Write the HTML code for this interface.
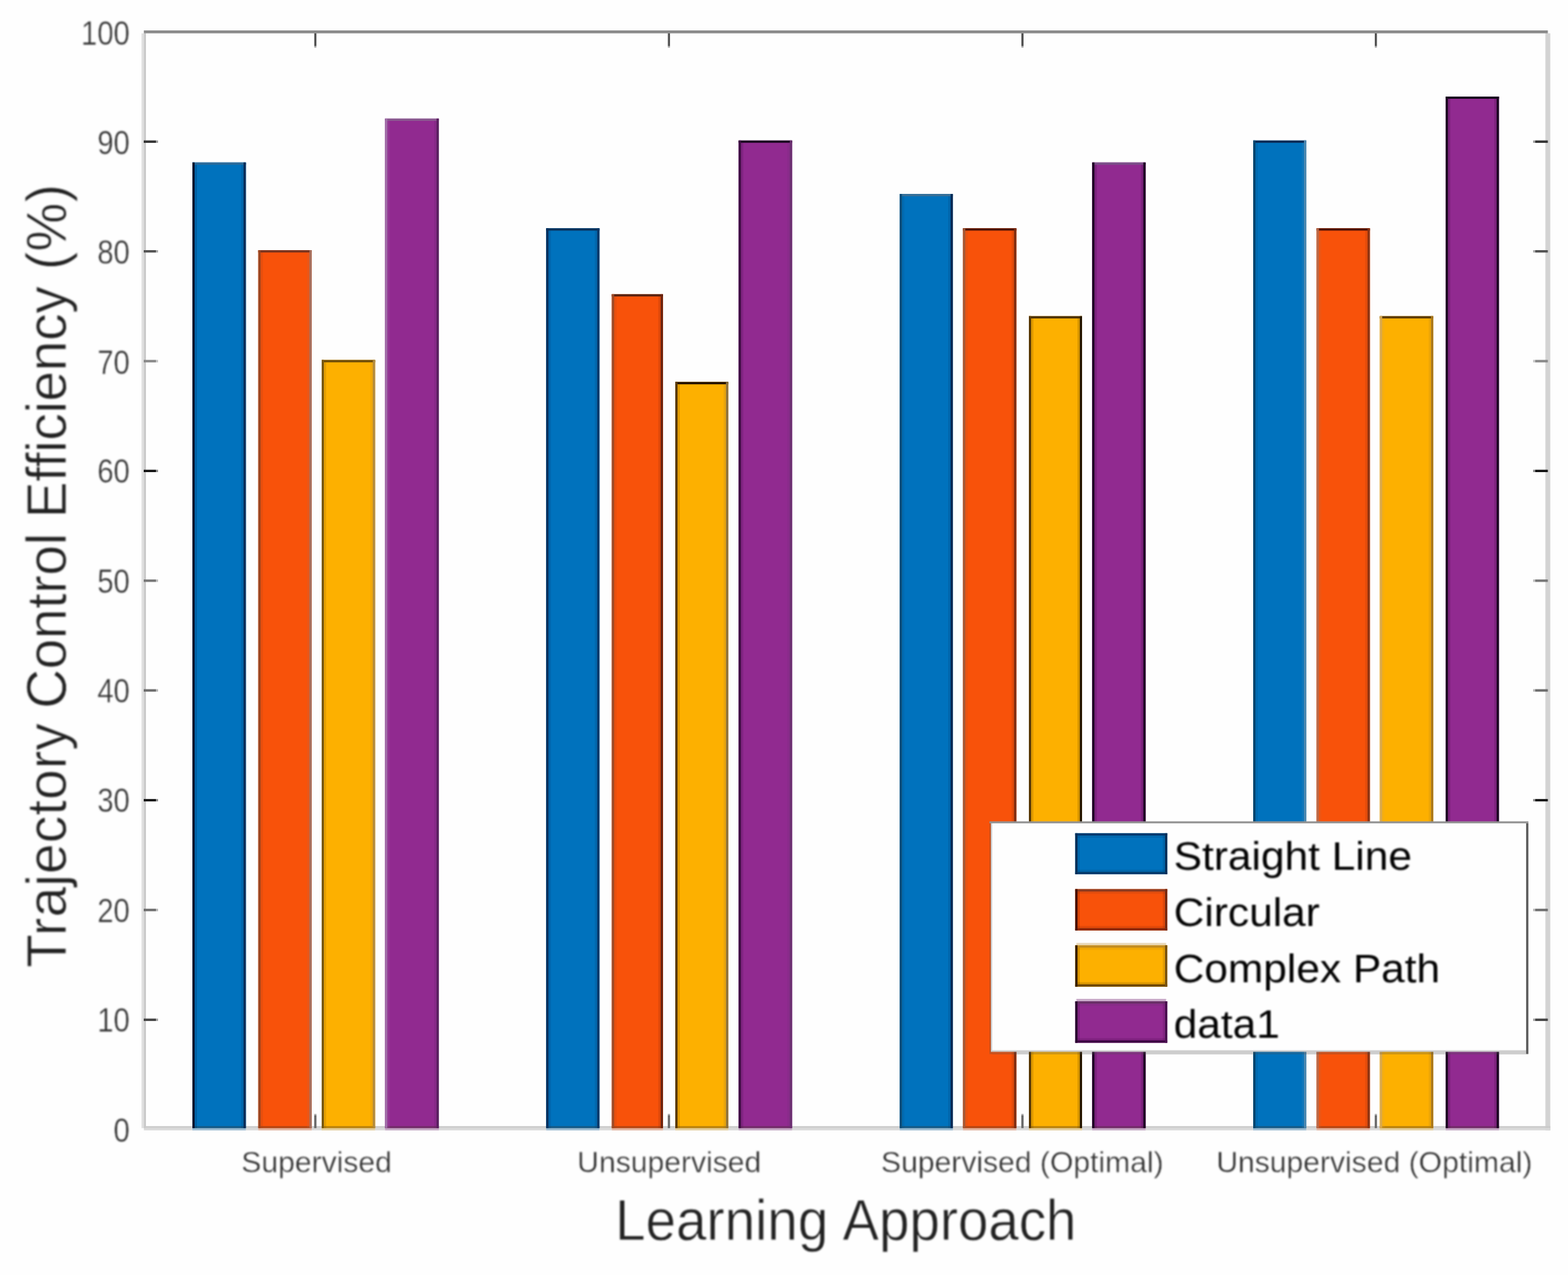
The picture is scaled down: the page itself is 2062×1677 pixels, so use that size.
<!DOCTYPE html>
<html lang="en"><head><meta charset="utf-8"><title>Trajectory Control Efficiency by Learning Approach</title>
<style>html,body{margin:0;padding:0;background:#fefefe}body{width:2062px;height:1677px;overflow:hidden}svg{display:block}text{font-family:"Liberation Sans",Arial,Helvetica,sans-serif}.tk{font-size:39.6px;fill:#2e2e2e;stroke:#fefefe;stroke-width:0.5px;paint-order:fill stroke}.al{font-size:72px;fill:#222;stroke:#fefefe;stroke-width:0.8px;paint-order:fill stroke}.lg{font-size:55.8px;fill:#030303}</style></head><body>
<svg width="2062" height="1677" viewBox="0 0 2062 1677">
<defs><filter id="soft" x="0" y="0" width="2062" height="1677" filterUnits="userSpaceOnUse" color-interpolation-filters="sRGB"><feGaussianBlur stdDeviation="0.7"/></filter><filter id="softer" x="0" y="0" width="2062" height="1677" filterUnits="userSpaceOnUse" color-interpolation-filters="sRGB"><feGaussianBlur stdDeviation="1.0"/></filter></defs>
<rect width="2062" height="1677" fill="#fefefe"/>
<g filter="url(#soft)">
<rect x="-20" y="-20" width="2102" height="1717" fill="#fefefe"/>
<g id="axes">
<rect x="186.1" y="43.8" width="3.1" height="1440" fill="#e0e0e0"/>
<rect x="189.2" y="43.8" width="2.7" height="1440" fill="#c8c8c8"/>
<rect x="2032.3" y="43.8" width="6.4" height="1443" fill="#d3d3d3"/>
<rect x="189.2" y="1481.2" width="1849.5" height="2.6" fill="#cacaca"/>
<rect x="189.2" y="1483.8" width="1849.5" height="2.9" fill="#d9d9d9"/>
<rect x="189.2" y="40" width="1846.3" height="3.8" fill="#8b8b8b"/>
<rect x="189" y="1339.7" width="16" height="3.2" fill="#444"/>
<rect x="205" y="1339.7" width="2.8" height="3.2" fill="#444" fill-opacity="0.5"/>
<rect x="2019" y="1339.7" width="16.5" height="3.2" fill="#444"/>
<rect x="2016.2" y="1339.7" width="2.8" height="3.2" fill="#444" fill-opacity="0.5"/>
<rect x="189" y="1195.3" width="16" height="3.2" fill="#6a6a6a"/>
<rect x="205" y="1195.3" width="2.8" height="3.2" fill="#6a6a6a" fill-opacity="0.5"/>
<rect x="2019" y="1195.3" width="16.5" height="3.2" fill="#6a6a6a"/>
<rect x="2016.2" y="1195.3" width="2.8" height="3.2" fill="#6a6a6a" fill-opacity="0.5"/>
<rect x="189" y="1050.9" width="16" height="3.2" fill="#181818"/>
<rect x="205" y="1050.9" width="2.8" height="3.2" fill="#181818" fill-opacity="0.5"/>
<rect x="2019" y="1050.9" width="16.5" height="3.2" fill="#181818"/>
<rect x="2016.2" y="1050.9" width="2.8" height="3.2" fill="#181818" fill-opacity="0.5"/>
<rect x="189" y="906.5" width="16" height="3.2" fill="#6a6a6a"/>
<rect x="205" y="906.5" width="2.8" height="3.2" fill="#6a6a6a" fill-opacity="0.5"/>
<rect x="2019" y="906.5" width="16.5" height="3.2" fill="#6a6a6a"/>
<rect x="2016.2" y="906.5" width="2.8" height="3.2" fill="#6a6a6a" fill-opacity="0.5"/>
<rect x="189" y="762.2" width="16" height="3.2" fill="#757575"/>
<rect x="205" y="762.2" width="2.8" height="3.2" fill="#757575" fill-opacity="0.5"/>
<rect x="2019" y="762.2" width="16.5" height="3.2" fill="#757575"/>
<rect x="2016.2" y="762.2" width="2.8" height="3.2" fill="#757575" fill-opacity="0.5"/>
<rect x="189" y="617.8" width="16" height="3.2" fill="#181818"/>
<rect x="205" y="617.8" width="2.8" height="3.2" fill="#181818" fill-opacity="0.5"/>
<rect x="2019" y="617.8" width="16.5" height="3.2" fill="#181818"/>
<rect x="2016.2" y="617.8" width="2.8" height="3.2" fill="#181818" fill-opacity="0.5"/>
<rect x="189" y="473.4" width="16" height="3.2" fill="#858585"/>
<rect x="205" y="473.4" width="2.8" height="3.2" fill="#858585" fill-opacity="0.5"/>
<rect x="2019" y="473.4" width="16.5" height="3.2" fill="#858585"/>
<rect x="2016.2" y="473.4" width="2.8" height="3.2" fill="#858585" fill-opacity="0.5"/>
<rect x="189" y="329.0" width="16" height="3.2" fill="#555"/>
<rect x="205" y="329.0" width="2.8" height="3.2" fill="#555" fill-opacity="0.5"/>
<rect x="2019" y="329.0" width="16.5" height="3.2" fill="#555"/>
<rect x="2016.2" y="329.0" width="2.8" height="3.2" fill="#555" fill-opacity="0.5"/>
<rect x="189" y="184.7" width="16" height="3.2" fill="#333"/>
<rect x="205" y="184.7" width="2.8" height="3.2" fill="#333" fill-opacity="0.5"/>
<rect x="2019" y="184.7" width="16.5" height="3.2" fill="#333"/>
<rect x="2016.2" y="184.7" width="2.8" height="3.2" fill="#333" fill-opacity="0.5"/>
<rect x="413.3" y="43.8" width="2.8" height="17" fill="#505050"/>
<rect x="413.3" y="60.8" width="2.8" height="2" fill="#b0b0b0"/>
<rect x="413.2" y="1467" width="3" height="16.8" fill="#6a6a6a"/>
<rect x="413.2" y="1465" width="3" height="2" fill="#b0b0b0"/>
<rect x="878.3" y="43.8" width="2.8" height="17" fill="#505050"/>
<rect x="878.3" y="60.8" width="2.8" height="2" fill="#b0b0b0"/>
<rect x="878.2" y="1467" width="3" height="16.8" fill="#6a6a6a"/>
<rect x="878.2" y="1465" width="3" height="2" fill="#b0b0b0"/>
<rect x="1343.2" y="43.8" width="2.8" height="17" fill="#505050"/>
<rect x="1343.2" y="60.8" width="2.8" height="2" fill="#b0b0b0"/>
<rect x="1343.1" y="1467" width="3" height="16.8" fill="#6a6a6a"/>
<rect x="1343.1" y="1465" width="3" height="2" fill="#b0b0b0"/>
<rect x="1807.9" y="43.8" width="2.8" height="17" fill="#505050"/>
<rect x="1807.9" y="60.8" width="2.8" height="2" fill="#b0b0b0"/>
<rect x="1807.8" y="1467" width="3" height="16.8" fill="#6a6a6a"/>
<rect x="1807.8" y="1465" width="3" height="2" fill="#b0b0b0"/>
</g>
<g id="bars">
<rect x="253.0" y="213.7" width="70.3" height="1270.1" fill="#0072bd"/>
<rect x="253.0" y="1483.8" width="70.3" height="2.9" fill="#0072bd" fill-opacity="0.3"/>
<rect x="253.0" y="1481.2" width="70.3" height="2.6" fill="#3a2a20" fill-opacity="0.35"/>
<rect x="253.0" y="213.7" width="70.3" height="3.0" fill="#2d6a98"/>
<rect x="253.0" y="213.7" width="3.0" height="1270.1" fill="#02102e"/>
<rect x="320.3" y="213.7" width="3.0" height="1270.1" fill="#0a2a55"/>
<rect x="256.0" y="216.7" width="3" height="1267.1" fill="#02102e" fill-opacity="0.18"/>
<rect x="317.3" y="216.7" width="3" height="1267.1" fill="#0a2a55" fill-opacity="0.18"/>
<rect x="339.7" y="329.1" width="70.2" height="1154.7" fill="#f8520a"/>
<rect x="339.7" y="1483.8" width="70.2" height="2.9" fill="#f8520a" fill-opacity="0.3"/>
<rect x="339.7" y="1481.2" width="70.2" height="2.6" fill="#3a2a20" fill-opacity="0.35"/>
<rect x="339.7" y="329.1" width="70.2" height="3.0" fill="#7a3520"/>
<rect x="339.7" y="329.1" width="3.0" height="1154.7" fill="#9a4520"/>
<rect x="406.9" y="329.1" width="3.0" height="1154.7" fill="#a8705e"/>
<rect x="342.7" y="332.1" width="3" height="1151.7" fill="#9a4520" fill-opacity="0.18"/>
<rect x="403.9" y="332.1" width="3" height="1151.7" fill="#a8705e" fill-opacity="0.18"/>
<rect x="423.0" y="473.5" width="70.3" height="1010.3" fill="#fdb000"/>
<rect x="423.0" y="1483.8" width="70.3" height="2.9" fill="#fdb000" fill-opacity="0.3"/>
<rect x="423.0" y="1481.2" width="70.3" height="2.6" fill="#3a2a20" fill-opacity="0.35"/>
<rect x="423.0" y="473.5" width="70.3" height="3.0" fill="#6a4a08"/>
<rect x="423.0" y="473.5" width="3.0" height="1010.3" fill="#7a5a10"/>
<rect x="490.3" y="473.5" width="3.0" height="1010.3" fill="#b08a40"/>
<rect x="426.0" y="476.5" width="3" height="1007.3" fill="#7a5a10" fill-opacity="0.18"/>
<rect x="487.3" y="476.5" width="3" height="1007.3" fill="#b08a40" fill-opacity="0.18"/>
<rect x="506.4" y="155.9" width="70.7" height="1327.9" fill="#912a90"/>
<rect x="506.4" y="1483.8" width="70.7" height="2.9" fill="#912a90" fill-opacity="0.3"/>
<rect x="506.4" y="1481.2" width="70.7" height="2.6" fill="#3a2a20" fill-opacity="0.35"/>
<rect x="506.4" y="155.9" width="70.7" height="3.0" fill="#8a5a90"/>
<rect x="506.4" y="155.9" width="3.0" height="1327.9" fill="#a070a8"/>
<rect x="574.1" y="155.9" width="3.0" height="1327.9" fill="#5a2060"/>
<rect x="509.4" y="158.9" width="3" height="1324.9" fill="#a070a8" fill-opacity="0.18"/>
<rect x="571.1" y="158.9" width="3" height="1324.9" fill="#5a2060" fill-opacity="0.18"/>
<rect x="718.3" y="300.3" width="70.0" height="1183.5" fill="#0072bd"/>
<rect x="718.3" y="1483.8" width="70.0" height="2.9" fill="#0072bd" fill-opacity="0.3"/>
<rect x="718.3" y="1481.2" width="70.0" height="2.6" fill="#3a2a20" fill-opacity="0.35"/>
<rect x="718.3" y="300.3" width="70.0" height="3.0" fill="#0a3058"/>
<rect x="718.3" y="300.3" width="3.0" height="1183.5" fill="#0a2f5c"/>
<rect x="785.3" y="300.3" width="3.0" height="1183.5" fill="#0a3566"/>
<rect x="721.3" y="303.3" width="3" height="1180.5" fill="#0a2f5c" fill-opacity="0.18"/>
<rect x="782.3" y="303.3" width="3" height="1180.5" fill="#0a3566" fill-opacity="0.18"/>
<rect x="804.6" y="386.9" width="67.2" height="1096.9" fill="#f8520a"/>
<rect x="804.6" y="1483.8" width="67.2" height="2.9" fill="#f8520a" fill-opacity="0.3"/>
<rect x="804.6" y="1481.2" width="67.2" height="2.6" fill="#3a2a20" fill-opacity="0.35"/>
<rect x="804.6" y="386.9" width="67.2" height="3.0" fill="#5a2412"/>
<rect x="804.6" y="386.9" width="3.0" height="1096.9" fill="#9a4a28"/>
<rect x="868.8" y="386.9" width="3.0" height="1096.9" fill="#6a2410"/>
<rect x="807.6" y="389.9" width="3" height="1093.9" fill="#9a4a28" fill-opacity="0.18"/>
<rect x="865.8" y="389.9" width="3" height="1093.9" fill="#6a2410" fill-opacity="0.18"/>
<rect x="888.0" y="502.4" width="69.7" height="981.4" fill="#fdb000"/>
<rect x="888.0" y="1483.8" width="69.7" height="2.9" fill="#fdb000" fill-opacity="0.3"/>
<rect x="888.0" y="1481.2" width="69.7" height="2.6" fill="#3a2a20" fill-opacity="0.35"/>
<rect x="888.0" y="502.4" width="69.7" height="3.0" fill="#1a0a00"/>
<rect x="888.0" y="502.4" width="3.0" height="981.4" fill="#5a3a08"/>
<rect x="954.7" y="502.4" width="3.0" height="981.4" fill="#8a7040"/>
<rect x="891.0" y="505.4" width="3" height="978.4" fill="#5a3a08" fill-opacity="0.18"/>
<rect x="951.7" y="505.4" width="3" height="978.4" fill="#8a7040" fill-opacity="0.18"/>
<rect x="971.4" y="184.8" width="70.2" height="1299.0" fill="#912a90"/>
<rect x="971.4" y="1483.8" width="70.2" height="2.9" fill="#912a90" fill-opacity="0.3"/>
<rect x="971.4" y="1481.2" width="70.2" height="2.6" fill="#3a2a20" fill-opacity="0.35"/>
<rect x="971.4" y="184.8" width="70.2" height="3.0" fill="#1a0420"/>
<rect x="971.4" y="184.8" width="3.0" height="1299.0" fill="#3a0a40"/>
<rect x="1038.6" y="184.8" width="3.0" height="1299.0" fill="#6a3070"/>
<rect x="974.4" y="187.8" width="3" height="1296.0" fill="#3a0a40" fill-opacity="0.18"/>
<rect x="1035.6" y="187.8" width="3" height="1296.0" fill="#6a3070" fill-opacity="0.18"/>
<rect x="1183.2" y="255.2" width="69.9" height="1228.6" fill="#0072bd"/>
<rect x="1183.2" y="1483.8" width="69.9" height="2.9" fill="#0072bd" fill-opacity="0.3"/>
<rect x="1183.2" y="1481.2" width="69.9" height="2.6" fill="#3a2a20" fill-opacity="0.35"/>
<rect x="1183.2" y="255.2" width="69.9" height="3.0" fill="#3a6f96"/>
<rect x="1183.2" y="255.2" width="3.0" height="1228.6" fill="#0a4d78"/>
<rect x="1250.1" y="255.2" width="3.0" height="1228.6" fill="#0a2a55"/>
<rect x="1186.2" y="258.2" width="3" height="1225.6" fill="#0a4d78" fill-opacity="0.18"/>
<rect x="1247.1" y="258.2" width="3" height="1225.6" fill="#0a2a55" fill-opacity="0.18"/>
<rect x="1266.4" y="300.3" width="70.1" height="1183.5" fill="#f8520a"/>
<rect x="1266.4" y="1483.8" width="70.1" height="2.9" fill="#f8520a" fill-opacity="0.3"/>
<rect x="1266.4" y="1481.2" width="70.1" height="2.6" fill="#3a2a20" fill-opacity="0.35"/>
<rect x="1266.4" y="300.3" width="70.1" height="3.0" fill="#4a1208"/>
<rect x="1266.4" y="300.3" width="3.0" height="1183.5" fill="#a05838"/>
<rect x="1333.5" y="300.3" width="3.0" height="1183.5" fill="#7a2a10"/>
<rect x="1269.4" y="303.3" width="3" height="1180.5" fill="#a05838" fill-opacity="0.18"/>
<rect x="1330.5" y="303.3" width="3" height="1180.5" fill="#7a2a10" fill-opacity="0.18"/>
<rect x="1353.0" y="415.8" width="70.0" height="1068.0" fill="#fdb000"/>
<rect x="1353.0" y="1483.8" width="70.0" height="2.9" fill="#fdb000" fill-opacity="0.3"/>
<rect x="1353.0" y="1481.2" width="70.0" height="2.6" fill="#3a2a20" fill-opacity="0.35"/>
<rect x="1353.0" y="415.8" width="70.0" height="3.0" fill="#4a3008"/>
<rect x="1353.0" y="415.8" width="3.0" height="1068.0" fill="#5a3a04"/>
<rect x="1420.0" y="415.8" width="3.0" height="1068.0" fill="#2a1a00"/>
<rect x="1356.0" y="418.8" width="3" height="1065.0" fill="#5a3a04" fill-opacity="0.18"/>
<rect x="1417.0" y="418.8" width="3" height="1065.0" fill="#2a1a00" fill-opacity="0.18"/>
<rect x="1436.3" y="213.7" width="70.2" height="1270.1" fill="#912a90"/>
<rect x="1436.3" y="1483.8" width="70.2" height="2.9" fill="#912a90" fill-opacity="0.3"/>
<rect x="1436.3" y="1481.2" width="70.2" height="2.6" fill="#3a2a20" fill-opacity="0.35"/>
<rect x="1436.3" y="213.7" width="70.2" height="3.0" fill="#7a5088"/>
<rect x="1436.3" y="213.7" width="3.0" height="1270.1" fill="#1a0420"/>
<rect x="1503.5" y="213.7" width="3.0" height="1270.1" fill="#1a0420"/>
<rect x="1439.3" y="216.7" width="3" height="1267.1" fill="#1a0420" fill-opacity="0.18"/>
<rect x="1500.5" y="216.7" width="3" height="1267.1" fill="#1a0420" fill-opacity="0.18"/>
<rect x="1648.0" y="184.8" width="69.8" height="1299.0" fill="#0072bd"/>
<rect x="1648.0" y="1483.8" width="69.8" height="2.9" fill="#0072bd" fill-opacity="0.3"/>
<rect x="1648.0" y="1481.2" width="69.8" height="2.6" fill="#3a2a20" fill-opacity="0.35"/>
<rect x="1648.0" y="184.8" width="69.8" height="3.0" fill="#0a2a55"/>
<rect x="1648.0" y="184.8" width="3.0" height="1299.0" fill="#04466f"/>
<rect x="1714.8" y="184.8" width="3.0" height="1299.0" fill="#4f89b0"/>
<rect x="1651.0" y="187.8" width="3" height="1296.0" fill="#04466f" fill-opacity="0.18"/>
<rect x="1711.8" y="187.8" width="3" height="1296.0" fill="#4f89b0" fill-opacity="0.18"/>
<rect x="1731.4" y="300.3" width="70.0" height="1183.5" fill="#f8520a"/>
<rect x="1731.4" y="1483.8" width="70.0" height="2.9" fill="#f8520a" fill-opacity="0.3"/>
<rect x="1731.4" y="1481.2" width="70.0" height="2.6" fill="#3a2a20" fill-opacity="0.35"/>
<rect x="1731.4" y="300.3" width="70.0" height="3.0" fill="#4a1008"/>
<rect x="1731.4" y="300.3" width="3.0" height="1183.5" fill="#b86a4a"/>
<rect x="1798.4" y="300.3" width="3.0" height="1183.5" fill="#8a3212"/>
<rect x="1734.4" y="303.3" width="3" height="1180.5" fill="#b86a4a" fill-opacity="0.18"/>
<rect x="1795.4" y="303.3" width="3" height="1180.5" fill="#8a3212" fill-opacity="0.18"/>
<rect x="1814.6" y="415.8" width="70.2" height="1068.0" fill="#fdb000"/>
<rect x="1814.6" y="1483.8" width="70.2" height="2.9" fill="#fdb000" fill-opacity="0.3"/>
<rect x="1814.6" y="1481.2" width="70.2" height="2.6" fill="#3a2a20" fill-opacity="0.35"/>
<rect x="1814.6" y="415.8" width="70.2" height="3.0" fill="#5a3a08"/>
<rect x="1814.6" y="415.8" width="3.0" height="1068.0" fill="#d8a850"/>
<rect x="1881.8" y="415.8" width="3.0" height="1068.0" fill="#a87820"/>
<rect x="1817.6" y="418.8" width="3" height="1065.0" fill="#d8a850" fill-opacity="0.18"/>
<rect x="1878.8" y="418.8" width="3" height="1065.0" fill="#a87820" fill-opacity="0.18"/>
<rect x="1901.2" y="127.0" width="70.0" height="1356.8" fill="#912a90"/>
<rect x="1901.2" y="1483.8" width="70.0" height="2.9" fill="#912a90" fill-opacity="0.3"/>
<rect x="1901.2" y="1481.2" width="70.0" height="2.6" fill="#3a2a20" fill-opacity="0.35"/>
<rect x="1901.2" y="127.0" width="70.0" height="3.0" fill="#1a0420"/>
<rect x="1901.2" y="127.0" width="3.0" height="1356.8" fill="#1a0420"/>
<rect x="1968.2" y="127.0" width="3.0" height="1356.8" fill="#1a0420"/>
<rect x="1904.2" y="130.0" width="3" height="1353.8" fill="#1a0420" fill-opacity="0.18"/>
<rect x="1965.2" y="130.0" width="3" height="1353.8" fill="#1a0420" fill-opacity="0.18"/>
</g>
<g id="legend">
<rect x="1303" y="1081.5" width="705.5" height="302" fill="#fefefe"/>
<rect x="1301.2" y="1080.3" width="708.7" height="2.6" fill="#939393"/>
<rect x="2006.9" y="1082.9" width="3" height="303.5" fill="#5e5e5e"/>
<rect x="1301.2" y="1082.9" width="3.5" height="303.5" fill="#505050" fill-opacity="0.3"/>
<rect x="1304.7" y="1381.4" width="702.2" height="5.4" fill="#505050" fill-opacity="0.28"/>
<rect x="1413.9" y="1095.9" width="121.2" height="53.9" fill="#0072bd"/>
<rect x="1413.9" y="1095.9" width="121.2" height="3.1" fill="#003a70"/>
<rect x="1413.9" y="1146.7" width="121.2" height="3.1" fill="#003a6a"/>
<rect x="1413.9" y="1095.9" width="3.1" height="53.9" fill="#04305a"/>
<rect x="1532" y="1095.9" width="3.1" height="53.9" fill="#04305a"/>
<rect x="1417" y="1099.0" width="115" height="2.8" fill="#003a70" fill-opacity="0.2"/>
<rect x="1417" y="1143.9" width="115" height="2.8" fill="#003a6a" fill-opacity="0.2"/>
<rect x="1417" y="1099.0" width="2.8" height="47.7" fill="#04305a" fill-opacity="0.2"/>
<rect x="1529.2" y="1099.0" width="2.8" height="47.7" fill="#04305a" fill-opacity="0.2"/>
<rect x="1413.9" y="1169.5" width="121.2" height="54.3" fill="#f8520a"/>
<rect x="1413.9" y="1169.5" width="121.2" height="3.1" fill="#8a3a20"/>
<rect x="1413.9" y="1220.7" width="121.2" height="3.1" fill="#8a2808"/>
<rect x="1413.9" y="1169.5" width="3.1" height="54.3" fill="#4a1000"/>
<rect x="1532" y="1169.5" width="3.1" height="54.3" fill="#7a2a10"/>
<rect x="1417" y="1172.6" width="115" height="2.8" fill="#8a3a20" fill-opacity="0.2"/>
<rect x="1417" y="1217.9" width="115" height="2.8" fill="#8a2808" fill-opacity="0.2"/>
<rect x="1417" y="1172.6" width="2.8" height="48.1" fill="#4a1000" fill-opacity="0.2"/>
<rect x="1529.2" y="1172.6" width="2.8" height="48.1" fill="#7a2a10" fill-opacity="0.2"/>
<rect x="1413.9" y="1243.4" width="121.2" height="54.3" fill="#fdb000"/>
<rect x="1415.5" y="1240.2" width="118" height="3.2" fill="#e8d8b8"/>
<rect x="1413.9" y="1243.4" width="121.2" height="3.1" fill="#c08a20"/>
<rect x="1413.9" y="1294.6" width="121.2" height="3.1" fill="#6a4400"/>
<rect x="1413.9" y="1243.4" width="3.1" height="54.3" fill="#3a2000"/>
<rect x="1532" y="1243.4" width="3.1" height="54.3" fill="#7a5410"/>
<rect x="1417" y="1246.5" width="115" height="2.8" fill="#c08a20" fill-opacity="0.2"/>
<rect x="1417" y="1291.8" width="115" height="2.8" fill="#6a4400" fill-opacity="0.2"/>
<rect x="1417" y="1246.5" width="2.8" height="48.1" fill="#3a2000" fill-opacity="0.2"/>
<rect x="1529.2" y="1246.5" width="2.8" height="48.1" fill="#7a5410" fill-opacity="0.2"/>
<rect x="1413.9" y="1317.0" width="121.2" height="54.5" fill="#912a90"/>
<rect x="1415.5" y="1313.8" width="118" height="3.2" fill="#c8a8c8"/>
<rect x="1413.9" y="1317.0" width="121.2" height="3.1" fill="#6a3068"/>
<rect x="1413.9" y="1368.4" width="121.2" height="3.1" fill="#3a0440"/>
<rect x="1413.9" y="1317.0" width="3.1" height="54.5" fill="#2a0a30"/>
<rect x="1532" y="1317.0" width="3.1" height="54.5" fill="#4a1050"/>
<rect x="1417" y="1320.1" width="115" height="2.8" fill="#6a3068" fill-opacity="0.2"/>
<rect x="1417" y="1365.6" width="115" height="2.8" fill="#3a0440" fill-opacity="0.2"/>
<rect x="1417" y="1320.1" width="2.8" height="48.3" fill="#2a0a30" fill-opacity="0.2"/>
<rect x="1529.2" y="1320.1" width="2.8" height="48.3" fill="#4a1050" fill-opacity="0.2"/>
</g>
</g>
<g filter="url(#softer)">
<g id="ylabels" class="tk" text-anchor="end">
<text transform="translate(170.6 1501.6) scale(0.97 1.10)">0</text>
<text transform="translate(170.6 1356.7) scale(0.97 1.10)">10</text>
<text transform="translate(170.6 1212.8) scale(0.97 1.10)">20</text>
<text transform="translate(170.6 1068.4) scale(0.97 1.10)">30</text>
<text transform="translate(170.6 924.0) scale(0.97 1.10)">40</text>
<text transform="translate(170.6 779.7) scale(0.97 1.10)">50</text>
<text transform="translate(170.6 635.3) scale(0.97 1.10)">60</text>
<text transform="translate(170.6 491.5) scale(0.97 1.10)">70</text>
<text transform="translate(170.6 347.1) scale(0.97 1.10)">80</text>
<text transform="translate(170.6 202.8) scale(0.97 1.10)">90</text>
<text transform="translate(170.6 59.3) scale(0.97 1.10)">100</text>
</g>
<g id="xlabels" class="tk" text-anchor="middle">
<text x="416.3" y="1542">Supervised</text>
<text x="880.1" y="1542">Unsupervised</text>
<text x="1344.4" y="1542">Supervised (Optimal)</text>
<text x="1807.3" y="1542">Unsupervised (Optimal)</text>
</g>
<text class="al" transform="translate(0 1631.0) scale(1 1.055)"><tspan x="809.0">Learning</tspan> <tspan x="1108.1" style="letter-spacing:-0.09px">Approach</tspan></text>
<text class="al" transform="translate(86.5 0) rotate(-90) scale(1 1.025)"><tspan x="-1272.8" style="letter-spacing:0.48px">Trajectory</tspan> <tspan x="-932.1" style="letter-spacing:-0.18px">Control</tspan> <tspan x="-681.4" style="letter-spacing:-0.21px">Efficiency</tspan> <tspan x="-355.1" style="letter-spacing:0.4px">(%)</tspan></text>
<g id="legendtext">
<text class="lg" transform="translate(1543.5 1144.5) scale(1 0.94)">Straight Line</text>
<text class="lg" transform="translate(1543.5 1218.2) scale(1 0.94)">Circular</text>
<text class="lg" transform="translate(1543.5 1291.8) scale(1 0.94)">Complex Path</text>
<text class="lg" transform="translate(1543.5 1365.5) scale(1 0.94)">data1</text>
</g>
</g>
</svg></body></html>
